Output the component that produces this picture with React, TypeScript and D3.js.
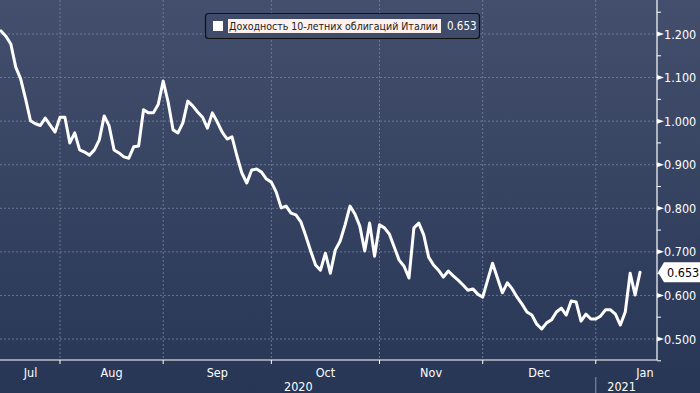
import React from "react";
import * as d3 from "d3";

const seriesName = "Доходность 10-летних облигаций Италии";
const lastLabel = "0.653";
// daily (trading-day) yields, mid-Jul 2020 → mid-Jan 2021
const yields = [
  1.207, 1.195, 1.177, 1.124, 1.097, 1.051, 1.001, 0.994, 0.99, 1.007,
  0.991, 0.975, 1.009, 1.009, 0.95, 0.973, 0.934, 0.929, 0.922, 0.934,
  0.957, 1.012, 0.989, 0.934, 0.927, 0.918, 0.915, 0.941, 0.943, 1.026,
  1.019, 1.019, 1.039, 1.092, 1.044, 0.98, 0.973, 0.996, 1.046, 1.035,
  1.021, 1.009, 0.984, 1.019, 0.998, 0.975, 0.959, 0.964, 0.92, 0.881,
  0.858, 0.888, 0.89, 0.883, 0.867, 0.86, 0.837, 0.801, 0.805, 0.789,
  0.785, 0.769, 0.737, 0.702, 0.67, 0.658, 0.697, 0.651, 0.704, 0.725,
  0.762, 0.805, 0.787, 0.759, 0.702, 0.766, 0.69, 0.762, 0.755, 0.741,
  0.711, 0.681, 0.667, 0.64, 0.755, 0.766, 0.739, 0.688, 0.67, 0.658,
  0.642, 0.656, 0.645, 0.635, 0.624, 0.612, 0.615, 0.603, 0.596, 0.635,
  0.674, 0.64, 0.606, 0.629, 0.615, 0.596, 0.58, 0.562, 0.555, 0.534,
  0.523, 0.537, 0.544, 0.562, 0.571, 0.555, 0.587, 0.585, 0.541, 0.557,
  0.546, 0.546, 0.553, 0.567, 0.567, 0.557, 0.532, 0.562, 0.651, 0.601,
  0.653,
];
// month boundaries as trading-day indices
const monthNames = ["Jul", "Aug", "Sep", "Oct", "Nov", "Dec", "Jan"];
const monthStart = [-11, 12, 33, 55, 77, 98, 121, 141];
const yearNames = ["2020", "2021"];
const yearStart = [0, 121, 131.5];
const yTicks = [0.5, 0.6, 0.7, 0.8, 0.9, 1.0, 1.1, 1.2];
const yMinor = [0.45, 0.55, 0.65, 0.75, 0.85, 0.95, 1.05, 1.15, 1.25];

const W = 700;
const H = 393;
const axisX = 657;
const baseY = 360;
const FONT = "Tahoma, 'DejaVu Sans Condensed', 'Liberation Sans', sans-serif";

export default function App() {
  const x = d3.scaleLinear().domain([0, 130]).range([1, 640]);
  const y = d3.scaleLinear().domain([0.5, 1.2]).range([339, 34]);
  const line = d3
    .line<number>()
    .x((_, i) => x(i))
    .y((d) => y(d));
  const last = yields[yields.length - 1];
  const ly = y(last);

  return (
    <svg
      width={W}
      height={H}
      style={{ position: "absolute", left: 0, top: 0, display: "block" }}
      fontFamily={FONT}
    >
      <defs>
        <linearGradient id="bg" x1="0" y1="0" x2="0" y2="1">
          <stop offset="0%" stopColor="#434f6c" />
          <stop offset="100%" stopColor="#283656" />
        </linearGradient>
        <clipPath id="plot">
          <rect x={0} y={0} width={axisX} height={baseY} />
        </clipPath>
      </defs>
      <rect x={0} y={0} width={W} height={H} fill="url(#bg)" />

      {/* grid */}
      {yTicks.map((t) => (
        <line
          key={"hg" + t}
          x1={0}
          x2={axisX}
          y1={y(t)}
          y2={y(t)}
          stroke="#7586a3"
          strokeWidth={1}
          strokeDasharray="2,2"
          opacity={0.8}
        />
      ))}
      {monthStart.slice(1, 7).map((m) => (
        <line
          key={"vg" + m}
          x1={x(m)}
          x2={x(m)}
          y1={0}
          y2={baseY}
          stroke="#7586a3"
          strokeWidth={1}
          strokeDasharray="2,2"
          opacity={0.8}
        />
      ))}

      {/* series */}
      <g clipPath="url(#plot)">
        <path
          d={line(yields) || ""}
          fill="none"
          stroke="#ffffff"
          strokeWidth={3}
          strokeLinejoin="round"
          strokeLinecap="round"
        />
      </g>

      {/* y axis */}
      <line x1={axisX} x2={axisX} y1={0} y2={baseY} stroke="#fff" strokeWidth={1.2} />
      {yMinor.map((t) => (
        <line key={"mn" + t} x1={axisX} x2={axisX + 4} y1={y(t)} y2={y(t)} stroke="#fff" />
      ))}
      {yTicks.map((t) => (
        <g key={"yt" + t}>
          <path
            d={`M${axisX},${y(t) - 2.5} L${axisX + 7},${y(t)} L${axisX},${y(t) + 2.5} Z`}
            fill="#fff"
          />
          <text x={axisX + 7} y={y(t)} dy="0.36em" fill="#fff" fontSize={12.5}>
            {t.toFixed(3)}
          </text>
        </g>
      ))}

      {/* last value tag */}
      <path
        d={`M${axisX + 1},${ly} L${axisX + 7},${ly - 10} L${W},${ly - 10} L${W},${ly + 10} L${axisX + 7},${ly + 10} Z`}
        fill="#fff"
      />
      <text x={axisX + 10} y={ly} dy="0.36em" fill="#000" fontSize={12.5}>
        {lastLabel}
      </text>

      {/* x axis */}
      <line x1={0} x2={axisX} y1={baseY} y2={baseY} stroke="#fff" strokeWidth={1.2} />
      {monthStart.slice(1, 7).map((m) => (
        <line key={"xt" + m} x1={x(m)} x2={x(m)} y1={baseY} y2={baseY + 4} stroke="#fff" />
      ))}
      {monthNames.map((n, i) => {
        const a = x(Math.max(monthStart[i], 0));
        const b = x(monthStart[i + 1]);
        return (
          <text
            key={n}
            x={(a + b) / 2}
            y={372}
            dy="0.36em"
            textAnchor="middle"
            fill="#fff"
            fontSize={12.5}
          >
            {n}
          </text>
        );
      })}
      <line x1={x(121)} x2={x(121)} y1={377} y2={H} stroke="#8a93a8" strokeWidth={1} />
      {yearNames.map((n, i) => (
        <text
          key={n}
          x={(x(yearStart[i]) + x(yearStart[i + 1])) / 2}
          y={386}
          dy="0.36em"
          textAnchor="middle"
          fill="#fff"
          fontSize={12.5}
        >
          {n}
        </text>
      ))}

      {/* legend */}
      <rect x={205.5} y={13.5} width={274} height={25} rx={3} fill="#3f4b68" stroke="#111" strokeWidth={1.2} />
      <rect x={213} y={21} width={10} height={10} fill="#fff" />
      <rect x={228} y={19} width={213} height={14} fill="#fdf1ee" />
      <text x={229} y={26} dy="0.36em" fill="#222" fontSize={10.6} textLength={209} lengthAdjust="spacingAndGlyphs">
        {seriesName}
      </text>
      <text x={447} y={26} dy="0.36em" fill="#fff" fontSize={11.5}>
        {lastLabel}
      </text>
    </svg>
  );
}
